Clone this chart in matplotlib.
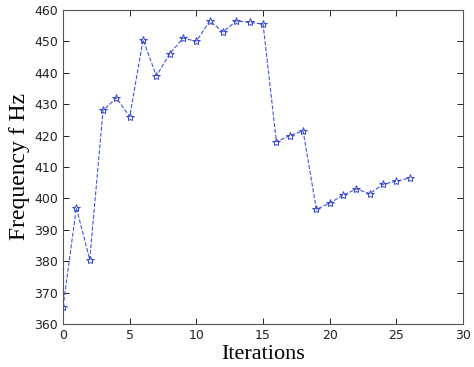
import numpy as np
import matplotlib.pyplot as plt

iterations = list(range(27))
freq = [365.5, 397, 380.5, 428, 432, 426, 450.5, 439, 446, 451, 450,
        456.5, 453, 456.5, 456, 455.5, 418, 420, 421.5, 396.5, 398.5,
        401, 403, 401.5, 404.5, 405.5, 406.5]
x_ticks = [0, 5, 10, 15, 20, 25, 30]
y_ticks = [360, 370, 380, 390, 400, 410, 420, 430, 440, 450, 460]

fig = plt.figure(figsize=(4.74, 3.67), dpi=100)
ax = fig.add_axes([0.133, 0.117, 0.844, 0.856])

ax.plot(iterations, freq, color='#4455dd', linewidth=0.8, linestyle='--',
        marker='*', markersize=6, markerfacecolor='none',
        markeredgecolor='#3344dd', markeredgewidth=0.7)

ax.set_xlim(0, 30)
ax.set_ylim(360, 460)
ax.set_xticks(x_ticks)
ax.set_yticks(y_ticks)

# 刻度向内，四边都有
ax.tick_params(direction='in', top=True, right=True, labelsize=9, length=4,
               width=0.6, labelcolor='#222222')
for lab in ax.get_xticklabels() + ax.get_yticklabels():
    lab.set_family('DejaVu Sans')
for s in ax.spines.values():
    s.set_color('#555555')
    s.set_linewidth(0.8)

ax.set_xlabel('Iterations', fontsize=16, family='Liberation Serif', labelpad=2)
ax.set_ylabel('Frequency f Hz', fontsize=17, family='Liberation Serif', labelpad=3)

fig.savefig('out.png', dpi=100)
